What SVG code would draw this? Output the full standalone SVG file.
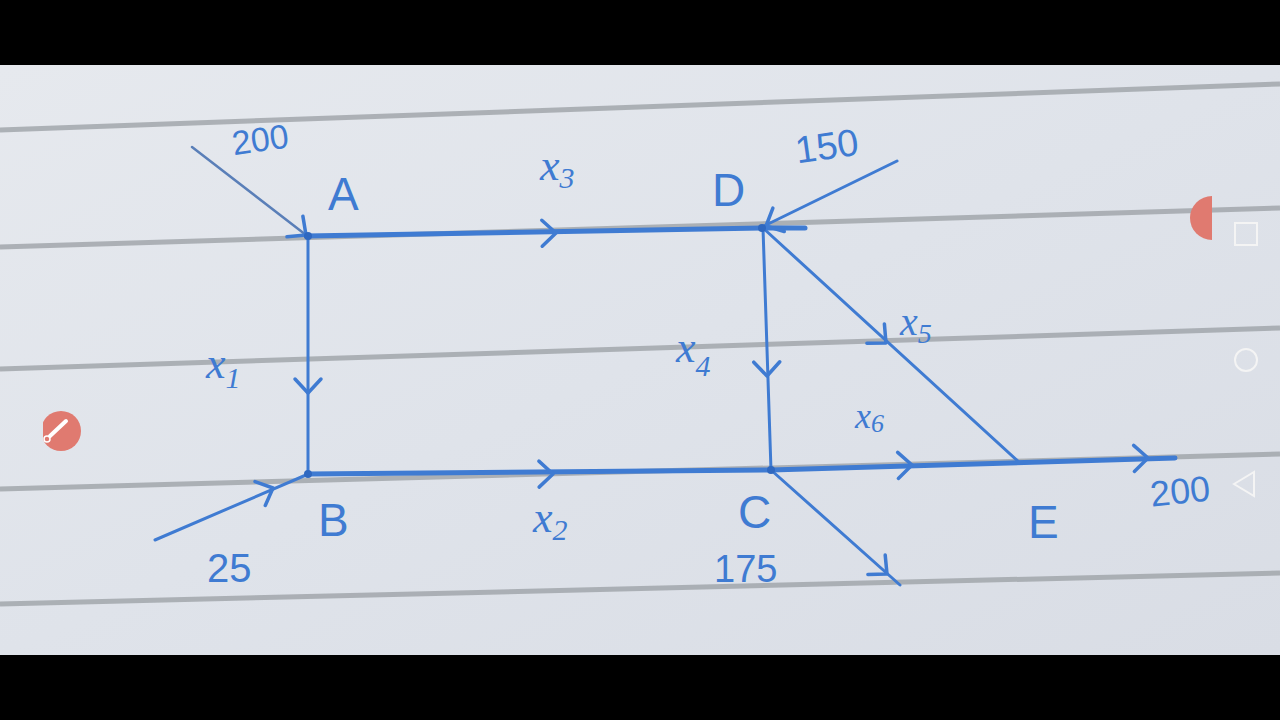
<svg xmlns="http://www.w3.org/2000/svg" xmlns:xlink="http://www.w3.org/1999/xlink" width="1280" height="720" viewBox="0 0 1280 720">
<defs>
<linearGradient id="paper" x1="0" y1="0" x2="1" y2="1">
<stop offset="0" stop-color="#e6e9ee"/>
<stop offset="0.5" stop-color="#dfe3ea"/>
<stop offset="1" stop-color="#d9dde5"/>
</linearGradient>
<clipPath id="leftclip"><rect x="43" y="400" width="60" height="70"/></clipPath>
<path id="chev" d="M-14,-13 L0,0 L-14,13"/>
</defs>
<style>
.rule{stroke:#9ea2a8;stroke-width:5;fill:none;opacity:0.8}
.edge{stroke:#3f7bd2;fill:none;stroke-linecap:round;stroke-linejoin:round}
.thick{stroke-width:5}
.thin{stroke-width:3}
.faint{stroke:#5a7fb8;stroke-width:2.5}
.chev{stroke:#3f7bd2;stroke-width:3.5;fill:none;stroke-linecap:round;stroke-linejoin:round}
.lbl{font-family:"Liberation Sans",sans-serif;fill:#3f7bd2}
.var{font-family:"Liberation Serif",serif;font-style:italic;fill:#3f7bd2}
.dot{fill:#2f68c0}
</style>
<rect x="0" y="0" width="1280" height="720" fill="#000"/>
<rect x="0" y="65" width="1280" height="590" fill="url(#paper)"/>
<g id="rules">
<line class="rule" x1="0" y1="130" x2="1280" y2="84"/>
<line class="rule" x1="0" y1="247" x2="1280" y2="208"/>
<line class="rule" x1="0" y1="369" x2="1280" y2="328"/>
<line class="rule" x1="0" y1="489" x2="1280" y2="454"/>
<line class="rule" x1="0" y1="604" x2="1280" y2="573"/>
</g>
<g id="connectors">
<line class="edge faint" x1="192" y1="147" x2="306" y2="235"/>
<line class="edge thick" x1="306" y1="236" x2="762" y2="228"/>
<line class="edge thin" x1="308" y1="236" x2="308" y2="474"/>
<line class="edge thick" x1="308" y1="474" x2="771" y2="470"/>
<line class="edge thin" x1="763" y1="228" x2="771" y2="470"/>
<line class="edge thin" x1="763" y1="228" x2="1020" y2="463"/>
<line class="edge thick" x1="771" y1="470" x2="1175" y2="458"/>
<line class="edge thin" x1="897" y1="161" x2="764" y2="226"/>
<line class="edge thin" x1="155" y1="540" x2="306" y2="475"/>
<line class="edge thick" x1="762" y1="228" x2="805" y2="228"/>
<line class="edge thin" x1="771" y1="470" x2="900" y2="585"/>
<use xlink:href="#chev" class="chev" transform="translate(306,235) rotate(37.7)"/>
<use xlink:href="#chev" class="chev" transform="translate(556,233) rotate(-1)"/>
<use xlink:href="#chev" class="chev" transform="translate(308,393) rotate(90)"/>
<use xlink:href="#chev" class="chev" transform="translate(553,474) rotate(-0.5)"/>
<use xlink:href="#chev" class="chev" transform="translate(767,376) rotate(89)"/>
<use xlink:href="#chev" class="chev" transform="translate(886,343) rotate(42.3)"/>
<use xlink:href="#chev" class="chev" transform="translate(912,465) rotate(-1.6)"/>
<use xlink:href="#chev" class="chev" transform="translate(1148,458) rotate(-1.6)"/>
<use xlink:href="#chev" class="chev" transform="translate(766,226) rotate(154)"/>
<use xlink:href="#chev" class="chev" transform="translate(273,488) rotate(-23.3)"/>
<use xlink:href="#chev" class="chev" transform="translate(887,574) rotate(41.7)"/>
</g>
<g id="node-A"><circle class="dot" cx="308" cy="236" r="4"/><text class="lbl" x="328" y="210" font-size="46">A</text></g>
<g id="node-D"><circle class="dot" cx="762" cy="228" r="4"/><text class="lbl" x="712" y="206" font-size="46">D</text></g>
<g id="node-B"><circle class="dot" cx="308" cy="474" r="4"/><text class="lbl" x="318" y="536" font-size="46">B</text></g>
<g id="node-C"><circle class="dot" cx="771" cy="470" r="4"/><text class="lbl" x="738" y="528" font-size="46">C</text></g>
<g id="node-E"><text class="lbl" x="1028" y="538" font-size="46">E</text></g>
<g id="labels">
<text class="lbl" x="232" y="150" font-size="34" transform="rotate(-8 270 140)">200</text>
<text class="lbl" x="795" y="158" font-size="38" transform="rotate(-8 835 145)">150</text>
<text class="lbl" x="207" y="582" font-size="40">25</text>
<text class="lbl" x="714" y="582" font-size="38">175</text>
<text class="lbl" x="1150" y="502" font-size="36" transform="rotate(-6 1195 490)">200</text>
<text class="var" x="540" y="180" font-size="44">x<tspan font-size="30" dy="8">3</tspan></text>
<text class="var" x="206" y="378" font-size="44">x<tspan font-size="30" dy="10">1</tspan></text>
<text class="var" x="676" y="362" font-size="44">x<tspan font-size="30" dy="14">4</tspan></text>
<text class="var" x="900" y="335" font-size="40">x<tspan font-size="28" dy="8">5</tspan></text>
<text class="var" x="855" y="428" font-size="36">x<tspan font-size="26" dy="4">6</tspan></text>
<text class="var" x="533" y="532" font-size="44">x<tspan font-size="30" dy="8">2</tspan></text>
</g>
<g id="overlay">
<path d="M1212,196 A22,22 0 0 0 1212,240 Z" fill="#e07a70"/>
<rect x="1235" y="223" width="22" height="22" fill="none" stroke="#f4f4f4" stroke-width="2"/>
<circle cx="1246" cy="360" r="11" fill="none" stroke="#f4f4f4" stroke-width="2"/>
<path d="M1234,484 L1254,472 L1254,496 Z" fill="none" stroke="#f4f4f4" stroke-width="2"/>
<circle cx="61" cy="431" r="20" fill="#e07a70" clip-path="url(#leftclip)"/>
<line x1="50" y1="436" x2="66" y2="421" stroke="#ffffff" stroke-width="4" stroke-linecap="round"/>
<circle cx="47" cy="439" r="3" fill="none" stroke="#ffffff" stroke-width="1.5"/>
</g>
</svg>
